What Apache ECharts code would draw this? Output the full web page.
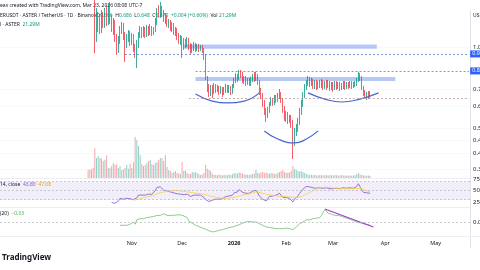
<!DOCTYPE html>
<html>
<head>
<meta charset="utf-8">
<script src="https://cdn.jsdelivr.net/npm/echarts@6/dist/echarts.min.js"></script>
<style>
html, body { margin: 0; padding: 0; background: #fff; }
#main { width: 480px; height: 270px; }
</style>
</head>
<body>
<div id="main"></div>
<script>
// daily candles from 2025-10-06, [open, close, low, high]
var candleStart = '2025-10-06';
var candles = [
  [1.95,1.88,1.82,2.02],[1.88,1.80,1.72,1.95],[1.80,1.85,1.70,1.92],[1.85,1.72,1.65,1.90],[1.72,1.12,0.95,1.78],
  [1.120,1.183,1.049,1.406],[1.183,1.268,1.143,1.358],[1.268,1.163,1.123,1.323],[1.163,1.290,1.133,1.382],[1.290,1.214,1.183,1.358],
  [1.214,1.335,1.183,1.406],[1.335,1.246,1.204,1.443],[1.246,1.358,1.214,1.455],[1.358,1.268,1.225,1.480],[1.268,1.183,1.143,1.323],
  [1.183,1.225,1.114,1.290],[1.225,1.085,1.049,1.268],[1.085,0.979,0.937,1.123],[0.979,1.067,0.954,1.104],[1.067,1.163,1.031,1.204],
  [1.163,1.204,1.123,1.246],[1.204,1.104,1.067,1.235],[1.104,1.022,0.882,1.143],[1.022,1.085,0.996,1.123],[1.085,1.133,1.049,1.163],
  [1.133,1.049,1.013,1.153],[1.049,1.104,1.022,1.133],[1.104,0.996,0.962,1.123],[0.996,0.962,0.913,1.031],[0.962,1.031,0.838,1.067],
  [1.031,1.114,0.996,1.143],[1.114,1.163,1.085,1.204],[1.163,1.123,1.085,1.193],[1.123,1.163,1.095,1.204],[1.163,1.114,1.085,1.193],
  [1.114,1.173,1.095,1.214],[1.173,1.143,1.104,1.204],[1.143,1.183,1.114,1.225],[1.183,1.133,1.104,1.204],[1.133,1.163,1.114,1.193],
  [1.163,1.246,1.143,1.290],[1.246,1.358,1.214,1.406],[1.358,1.323,1.290,1.443],[1.323,1.382,1.290,1.480],[1.382,1.335,1.301,1.430],
  [1.335,1.268,1.246,1.382],[1.268,1.301,1.225,1.347],[1.301,1.225,1.193,1.323],[1.225,1.246,1.183,1.279],[1.246,1.183,1.153,1.268],
  [1.183,1.214,1.143,1.246],[1.214,1.143,1.114,1.235],[1.143,1.163,1.104,1.193],[1.163,1.104,1.067,1.183],[1.104,1.067,1.031,1.133],
  [1.067,1.085,1.022,1.114],[1.085,1.013,0.913,1.104],[1.013,1.049,0.979,1.085],[1.049,1.031,0.996,1.076],[1.031,1.067,1.004,1.095],
  [1.067,1.013,0.979,1.085],[1.013,0.979,0.946,1.040],[0.979,1.004,0.954,1.031],[1.004,1.022,0.970,1.049],[1.022,0.987,0.962,1.040],
  [0.987,1.013,0.970,1.031],[1.013,0.996,0.962,1.031],[0.996,1.004,0.970,1.022],[1.004,0.979,0.954,1.022],[0.979,0.929,0.898,0.996],
  [0.929,0.769,0.756,0.946],[0.769,0.705,0.681,0.782],[0.705,0.670,0.653,0.730],[0.670,0.705,0.658,0.724],[0.705,0.681,0.647,0.724],
  [0.681,0.718,0.670,0.736],[0.718,0.693,0.676,0.730],[0.693,0.705,0.681,0.724],[0.705,0.681,0.664,0.718],[0.681,0.699,0.670,0.718],
  [0.699,0.676,0.653,0.711],[0.676,0.693,0.664,0.711],[0.693,0.711,0.676,0.730],[0.711,0.687,0.676,0.724],[0.687,0.705,0.676,0.724],
  [0.705,0.681,0.664,0.718],[0.681,0.718,0.670,0.730],[0.718,0.756,0.705,0.769],[0.756,0.782,0.736,0.803],[0.782,0.769,0.743,0.796],
  [0.769,0.803,0.756,0.824],[0.803,0.796,0.769,0.824],[0.796,0.756,0.736,0.810],[0.756,0.769,0.730,0.782],[0.769,0.736,0.718,0.782],
  [0.736,0.756,0.724,0.769],[0.756,0.730,0.718,0.769],[0.730,0.756,0.718,0.776],[0.756,0.776,0.743,0.796],[0.776,0.762,0.743,0.810],
  [0.762,0.782,0.749,0.810],[0.782,0.743,0.724,0.796],[0.743,0.681,0.664,0.756],[0.681,0.658,0.641,0.705],[0.658,0.614,0.599,0.676],
  [0.614,0.573,0.559,0.636],[0.573,0.554,0.526,0.594],[0.554,0.583,0.545,0.599],[0.583,0.614,0.569,0.625],[0.614,0.636,0.604,0.653],
  [0.636,0.620,0.604,0.647],[0.620,0.647,0.609,0.664],[0.647,0.636,0.620,0.664],[0.636,0.658,0.625,0.676],[0.658,0.670,0.641,0.699],
  [0.670,0.636,0.620,0.681],[0.636,0.583,0.569,0.647],[0.583,0.545,0.531,0.604],[0.545,0.564,0.526,0.578],[0.564,0.535,0.517,0.573],
  [0.535,0.545,0.522,0.559],[0.545,0.517,0.500,0.559],[0.517,0.443,0.382,0.535],[0.443,0.483,0.428,0.500],[0.483,0.500,0.466,0.517],
  [0.500,0.526,0.483,0.545],[0.526,0.573,0.513,0.594],[0.573,0.614,0.559,0.636],[0.614,0.664,0.599,0.681],[0.664,0.705,0.647,0.730],
  [0.705,0.730,0.693,0.756],[0.730,0.756,0.718,0.782],[0.756,0.730,0.711,0.776],[0.730,0.743,0.718,0.769],[0.743,0.718,0.699,0.762],
  [0.718,0.736,0.699,0.756],[0.736,0.711,0.693,0.756],[0.711,0.730,0.699,0.749],[0.730,0.718,0.705,0.756],[0.718,0.743,0.705,0.762],
  [0.743,0.711,0.693,0.756],[0.711,0.730,0.699,0.749],[0.730,0.718,0.693,0.756],[0.718,0.736,0.705,0.756],[0.736,0.705,0.687,0.749],
  [0.705,0.724,0.693,0.743],[0.724,0.705,0.681,0.743],[0.705,0.730,0.693,0.749],[0.730,0.711,0.693,0.749],[0.711,0.724,0.699,0.743],
  [0.724,0.705,0.687,0.743],[0.705,0.718,0.693,0.736],[0.718,0.730,0.699,0.749],[0.730,0.711,0.693,0.749],[0.711,0.724,0.699,0.743],
  [0.724,0.718,0.699,0.743],[0.718,0.730,0.705,0.749],[0.730,0.718,0.699,0.749],[0.718,0.724,0.705,0.743],[0.724,0.730,0.711,0.749],
  [0.730,0.756,0.718,0.769],[0.756,0.782,0.743,0.810],[0.782,0.769,0.749,0.803],[0.769,0.705,0.693,0.782],[0.705,0.676,0.658,0.718],
  [0.676,0.664,0.647,0.693],[0.664,0.670,0.636,0.681],[0.670,0.666,0.641,0.687],[0.666,0.670,0.648,0.686]
];
// volume in millions, same days as candles
var volume = [
  86,90,95,107,320,
  215,235,214,210,182,195,245,110,105,128,
  160,140,150,107,128,86,90,107,139,100,
  150,107,170,438,405,342,246,150,128,139,
  160,182,192,150,139,160,170,192,214,214,
  182,246,120,86,75,54,64,75,54,50,
  43,171,75,80,54,43,46,64,58,64,
  54,40,32,35,54,139,100,86,75,48,
  32,35,30,38,32,28,35,30,32,38,
  35,40,54,50,48,58,54,46,40,38,
  35,32,38,43,48,86,54,50,58,64,
  54,60,50,46,54,50,43,46,54,64,
  75,86,64,54,58,60,75,128,96,86,
  75,70,75,64,54,43,38,32,35,30,
  32,30,28,32,30,28,30,32,28,30,
  32,28,32,30,28,26,30,28,26,28,
  26,24,28,26,30,40,54,38,32,28,
  26,24,26,21.29
];
var rsiStart = '2025-10-20';
var rsi = [
  24,26,22,20,27,33,35,31,28,33,36,32,35,30,28,34,40,43,40,43,40,44,42,45,42,44,50,57,55,58,
  55,51,53,49,50,47,49,45,46,43,41,42,38,41,40,42,39,37,39,40,38,40,39,40,38,35,
  30,27,26,30,29,33,31,33,31,34,32,35,37,35,38,36,40,45,49,47,52,51,46,48,44,
  47,44,47,49,48,50,45,38,35,31,28,27,32,37,40,38,42,40,43,44,40,35,32,35,32,33,31,25,31,
  34,38,44,48,53,57,59,62,58,59,56,58,55,57,56,58,55,57,56,57,54,56,54,56,55,
  56,54,55,56,54,55,55,56,54,55,55,59,65,62,51,46,44,45,43,43.8
];
var rsiMaStart = '2025-11-02';
var rsiMa = [
  29,29,30,31,32,33,34,35,36,37,38,39,40,41,43,44,45,46,47,48,48,49,49,50,50,50,50,49,
  49,49,48,48,47,47,46,46,45,45,
  44,43,43,42,42,41,40,39,38,37,36,35,35,34,34,33,33,33,33,34,
  34,35,35,36,37,38,39,40,41,41,42,43,44,45,46,47,47,46,45,44,
  43,42,41,40,40,39,39,38,38,38,37,37,37,37,36,36,36,35,35,35,
  35,36,37,38,40,42,44,46,48,50,52,53,55,56,56,56,57,57,57,56,
  56,56,55,55,55,55,55,55,54,54,54,54,54,54,54,54,55,55,54,53,
  51,50,48,47.08
];
var cmfStart = '2025-10-25';
var cmf = [
  -0.03,-0.03,-0.03,-0.03,-0.03,-0.03,-0.02,-0.03,0.0,-0.02,0.02,0.01,0.03,0.02,0.03,0.03,
  0.04,0.035,0.045,0.04,0.05,0.055,0.06,0.065,0.06,0.07,0.075,0.065,0.06,0.055,0.06,0.055,
  0.06,0.06,0.065,0.06,0.065,0.06,0.055,0.06,0.04,0.01,-0.005,-0.01,-0.02,-0.03,-0.035,-0.04,
  -0.05,-0.055,-0.06,-0.065,-0.07,-0.08,-0.085,-0.09,-0.09,-0.085,-0.08,-0.075,-0.07,-0.07,
  -0.065,-0.06,-0.055,-0.05,-0.05,-0.045,-0.04,-0.035,-0.03,-0.025,-0.02,-0.01,-0.005,0.0,
  0.0,0.005,0.0,0.0,0.005,0.0,-0.005,-0.015,-0.02,-0.03,-0.04,-0.045,-0.045,-0.05,-0.05,-0.055,
  -0.06,-0.06,-0.065,-0.06,-0.065,-0.06,-0.06,-0.055,-0.06,-0.06,-0.065,-0.07,-0.06,-0.045,
  -0.03,-0.015,-0.01,0.0,0.01,0.02,0.015,0.02,0.025,0.03,0.03,0.035,0.04,0.04,0.06,0.09,0.11,
  0.095,0.08,0.075,0.07,0.065,0.06,0.055,0.06,0.055,0.05,0.045,0.04,0.035,0.03,0.025,0.02,
  0.01,0.005,0.0,-0.005,-0.01,-0.01,-0.015,-0.02,-0.02,-0.025,-0.03
];
var cmfTrend = [['2026-02-24', 0.118], ['2026-03-25', -0.045]];

// drawings on the price pane
var zones = [['2025-12-02', '2026-03-27', 0.990, 1.025], ['2025-12-09', '2026-04-07', 0.749, 0.776]];
var levelLines = [['2025-10-28', 0.946], ['2025-12-09', 0.817], ['2025-12-05', 0.647]];
var arcLeft = [['2025-12-09', 0.670], ['2025-12-19', 0.630], ['2025-12-28', 0.620], ['2026-01-07', 0.630], ['2026-01-16', 0.676]];
var arcBottom = [['2026-01-19', 0.487], ['2026-01-27', 0.454], ['2026-02-06', 0.439], ['2026-02-13', 0.454], ['2026-02-20', 0.487]];
var arcRight = [['2026-02-14', 0.676], ['2026-02-24', 0.641], ['2026-03-06', 0.625], ['2026-03-17', 0.641], ['2026-03-28', 0.676]];

var priceTicks = [0.35, 0.4, 0.45, 0.5, 0.6, 0.7, 1.0];
var rsiTicks = [25, 50, 75];
var cmfTicks = [0];
var monthNames = ['Jan','Feb','Mar','Apr','May','Jun','Jul','Aug','Sep','Oct','Nov','Dec'];

var UP = '#089981', DOWN = '#f23645', FONT = 'Noto Sans';

// one category per day, Aug 15 2025 .. May 21 2026
var categories = [];
var d0 = Date.UTC(2025, 7, 15);
for (var k = 0; k < 280; k++) {
  categories.push(new Date(d0 + k * 86400000).toISOString().slice(0, 10));
}
var lastCat = categories[categories.length - 1];

function pad(start, arr, empty) {
  var out = categories.map(function () { return empty; });
  var s = categories.indexOf(start);
  arr.forEach(function (v, j) { out[s + j] = v; });
  return out;
}

var volData = volume.map(function (v, j) {
  var c = candles[j];
  return { value: v, itemStyle: { color: c[1] >= c[0] ? 'rgba(8,153,129,0.45)' : 'rgba(242,54,69,0.45)' } };
});

function xAx(i, showLabel) {
  return {
    type: 'category', gridIndex: i, data: categories, boundaryGap: true,
    axisLine: { show: false }, axisTick: { show: false }, splitLine: { show: false },
    axisLabel: {
      show: showLabel, margin: 4, fontSize: 5.5, color: '#131722', fontFamily: FONT,
      interval: function (idx, v) { return v.slice(8) === '01' && v >= '2025-11-01'; },
      formatter: function (v) {
        var m = +v.slice(5, 7);
        return m === 1 ? '{y|' + v.slice(0, 4) + '}' : monthNames[m - 1];
      },
      rich: { y: { fontWeight: 'bold', fontSize: 5.5, color: '#131722', fontFamily: FONT } }
    }
  };
}

function yLabels(ticks, fmt) {
  return {
    customValues: ticks, margin: 3, fontSize: 6, color: '#131722', fontFamily: FONT,
    formatter: fmt
  };
}

function levelSeries(from, price, opts) {
  return {
    type: 'line', xAxisIndex: 0, yAxisIndex: 0, data: [], silent: true,
    markLine: {
      silent: true, symbol: ['none', 'none'], animation: false,
      lineStyle: opts.lineStyle,
      label: {
        show: !!opts.text, position: 'end', distance: 1, formatter: opts.text || '',
        backgroundColor: opts.bg, color: '#fff', fontSize: 5.5, padding: [1, 2, 0, 2],
        fontFamily: FONT
      },
      data: [[{ xAxis: from, yAxis: price }, { xAxis: lastCat, yAxis: price }]]
    }
  };
}

function arcSeries(pts) {
  return {
    type: 'line', xAxisIndex: 0, yAxisIndex: 0, data: pts, smooth: true,
    symbol: 'none', silent: true, lineStyle: { color: '#4468d0', width: 1.2 }
  };
}

function gridAt(top, height) {
  return { left: 0, right: 10, top: top, height: height, outerBoundsMode: 'none', containLabel: false };
}

var chart = echarts.init(document.getElementById('main'));
var option = {
  animation: false,
  backgroundColor: '#fff',
  textStyle: { fontFamily: FONT },
  grid: [gridAt(0, 178), gridAt(136, 42), gridAt(175, 32), gridAt(208, 28)],
  xAxis: [xAx(0, false), xAx(1, false), xAx(2, false), xAx(3, true)],
  yAxis: [
    {
      type: 'log', gridIndex: 0, position: 'right', min: 0.3245, max: 1.506,
      axisLine: { show: false }, axisTick: { show: false, customValues: priceTicks },
      axisLabel: yLabels(priceTicks, function (v) { return Number(v).toFixed(4); }),
      splitLine: { show: true, lineStyle: { color: '#f2f3f6', width: 0.6 } }
    },
    { type: 'value', gridIndex: 1, min: 0, max: 450, show: false },
    {
      type: 'value', gridIndex: 2, position: 'right', min: 14, max: 84,
      axisLine: { show: false }, axisTick: { show: false },
      axisLabel: yLabels(rsiTicks, function (v) { return Number(v).toFixed(2); }),
      splitLine: { show: false }
    },
    {
      type: 'value', gridIndex: 3, position: 'right', min: -0.127, max: 0.127,
      axisLine: { show: false }, axisTick: { show: false },
      axisLabel: yLabels(cmfTicks, function (v) { return Number(v).toFixed(4); }),
      splitLine: { show: false }
    }
  ],
  series: [
    {
      type: 'line', xAxisIndex: 0, yAxisIndex: 0, data: [], silent: true,
      markArea: {
        silent: true,
        itemStyle: { color: 'rgba(66,110,230,0.38)' },
        data: zones.map(function (z) {
          return [{ xAxis: z[0], yAxis: z[3] }, { xAxis: z[1], yAxis: z[2] }];
        })
      }
    },
    {
      type: 'bar', xAxisIndex: 1, yAxisIndex: 1, barWidth: '60%',
      data: pad(candleStart, volData, '-'), silent: true
    },
    {
      type: 'candlestick', xAxisIndex: 0, yAxisIndex: 0, barWidth: '55%',
      data: pad(candleStart, candles, ['-', '-', '-', '-']),
      itemStyle: { color: UP, color0: DOWN, borderColor: UP, borderColor0: DOWN, borderWidth: 0.8 }
    },
    levelSeries(levelLines[0][0], levelLines[0][1], {
      lineStyle: { color: '#5b7fd6', type: [2, 2], width: 0.8 }, text: '0.9460', bg: '#2962ff'
    }),
    levelSeries(levelLines[1][0], levelLines[1][1], {
      lineStyle: { color: '#5b7fd6', type: [2, 2], width: 0.8 }, text: '0.8170', bg: '#2962ff'
    }),
    levelSeries(levelLines[2][0], levelLines[2][1], {
      lineStyle: { color: '#b89aa0', type: [2, 2], width: 0.8 }
    }),
    levelSeries(categories[270], candles[candles.length - 1][1], {
      lineStyle: { opacity: 0 }, text: '0.6700', bg: UP
    }),
    levelSeries(categories[270], 0.632, {
      lineStyle: { opacity: 0 }, text: '0.6320', bg: DOWN
    }),
    arcSeries(arcLeft),
    arcSeries(arcBottom),
    arcSeries(arcRight),
    {
      type: 'line', xAxisIndex: 2, yAxisIndex: 2, data: pad(rsiStart, rsi, '-'),
      symbol: 'none', silent: true, lineStyle: { color: '#7e57c2', width: 0.8 },
      markArea: {
        silent: true, itemStyle: { color: 'rgba(126,87,194,0.1)' },
        data: [[{ yAxis: 70 }, { yAxis: 30 }]]
      },
      markLine: {
        silent: true, symbol: ['none', 'none'], label: { show: false },
        lineStyle: { color: '#b2b5be', type: [2, 2], width: 0.7 },
        data: [{ yAxis: 70 }, { yAxis: 50 }, { yAxis: 30 }]
      }
    },
    {
      type: 'line', xAxisIndex: 2, yAxisIndex: 2, data: pad(rsiMaStart, rsiMa, '-'),
      symbol: 'none', silent: true, lineStyle: { color: '#f5d24a', width: 0.8 }
    },
    {
      type: 'line', xAxisIndex: 3, yAxisIndex: 3, data: pad(cmfStart, cmf, '-'),
      symbol: 'none', silent: true, lineStyle: { color: '#6cc070', width: 0.8 },
      markLine: {
        silent: true, symbol: ['none', 'none'], label: { show: false },
        lineStyle: { color: '#b2b5be', type: [2, 2], width: 0.7 },
        data: [{ yAxis: 0 }]
      }
    },
    {
      type: 'line', xAxisIndex: 3, yAxisIndex: 3, data: cmfTrend,
      symbol: 'none', silent: true, lineStyle: { color: '#a53cc9', width: 1.2 }
    },
    {
      type: 'line', xAxisIndex: 3, yAxisIndex: 3, data: [], silent: true,
      markLine: {
        silent: true, symbol: ['none', 'none'], lineStyle: { opacity: 0 },
        label: {
          show: true, position: 'end', distance: 1, color: '#fff', backgroundColor: '#9c27b0',
          fontSize: 5.5, padding: [1, 2, 0, 2], fontFamily: FONT,
          formatter: function (p) { return Number(p.value).toFixed(4); }
        },
        data: [
          [{ xAxis: categories[270], yAxis: 0.1 }, { xAxis: lastCat, yAxis: 0.1 }],
          [{ xAxis: categories[270], yAxis: -0.045 }, { xAxis: lastCat, yAxis: -0.045 }]
        ]
      }
    }
  ],
  graphic: [
    { type: 'line', silent: true, shape: { x1: 470.5, y1: 10, x2: 470.5, y2: 248 }, style: { stroke: '#e0e3eb', lineWidth: 1 } },
    { type: 'line', silent: true, shape: { x1: 0, y1: 178.5, x2: 470, y2: 178.5 }, style: { stroke: '#eceef2', lineWidth: 1 } },
    { type: 'line', silent: true, shape: { x1: 0, y1: 207.5, x2: 470, y2: 207.5 }, style: { stroke: '#eceef2', lineWidth: 1 } },
    { type: 'line', silent: true, shape: { x1: 0, y1: 236.5, x2: 480, y2: 236.5 }, style: { stroke: '#eceef2', lineWidth: 1 } },
    { type: 'text', silent: true, style: { x: 0, y: 6, text: 'eav created with TradingView.com, Mar 23, 2026 08:08 UTC-7', fontSize: 5, fill: '#131722', fontFamily: FONT, verticalAlign: 'middle' } },
    { type: 'text', silent: true, style: { x: 0, y: 16, text: 'ERUSDT · ASTER / TetherUS · 1D · Binance', fontSize: 5, fill: '#131722', fontFamily: FONT, verticalAlign: 'middle' } },
    { type: 'text', silent: true, style: { x: 96, y: 16, text: '{k|O}{v|0.666}  {k|H}{v|0.686}  {k|L}{v|0.648}  {k|C}{v|0.670}  {v|+0.004 (+0.60%)}  {k|Vol}{v| 21.29M}', fontSize: 5, fontFamily: FONT, verticalAlign: 'middle',
      rich: { k: { fill: '#131722', fontSize: 5, fontFamily: FONT }, v: { fill: UP, fontSize: 5, fontFamily: FONT } } } },
    { type: 'text', silent: true, style: { x: 0, y: 25, text: '{k|l · ASTER}  {v|21.29M}', fontSize: 5, fontFamily: FONT, verticalAlign: 'middle',
      rich: { k: { fill: '#131722', fontSize: 5, fontFamily: FONT }, v: { fill: UP, fontSize: 5, fontFamily: FONT } } } },
    { type: 'text', silent: true, style: { x: 473, y: 16, text: 'USDT', fontSize: 5, fill: '#131722', fontFamily: FONT, verticalAlign: 'middle' } },
    { type: 'text', silent: true, style: { x: 0, y: 185, text: '{k|14, close}  {p|43.80}  {m|47.08}', fontSize: 5, fontFamily: FONT, verticalAlign: 'middle',
      rich: { k: { fill: '#131722', fontSize: 5, fontFamily: FONT }, p: { fill: '#7e57c2', fontSize: 5, fontFamily: FONT }, m: { fill: '#e0b400', fontSize: 5, fontFamily: FONT } } } },
    { type: 'text', silent: true, style: { x: 0, y: 214, text: '{k|(20)}  {v|−0.03}', fontSize: 5, fontFamily: FONT, verticalAlign: 'middle',
      rich: { k: { fill: '#131722', fontSize: 5, fontFamily: FONT }, v: { fill: '#4caf50', fontSize: 5, fontFamily: FONT } } } },
    { type: 'text', silent: true, style: { x: 2, y: 258, text: 'TradingView', fontSize: 8, fontWeight: 'bold', fill: '#131722', fontFamily: FONT, verticalAlign: 'middle' } }
  ]
};
chart.setOption(option);
</script>
</body>
</html>
